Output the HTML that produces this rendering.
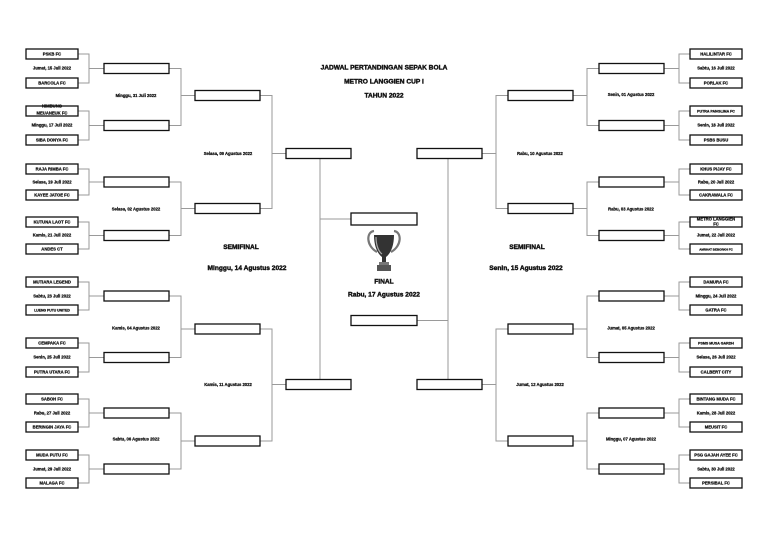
<!DOCTYPE html>
<html><head><meta charset="utf-8"><style>
html,body{margin:0;padding:0;background:#fff;}
svg{display:block;font-family:"Liberation Sans",Arial,sans-serif;font-weight:bold;}
.b{fill:#fff;stroke:#111;stroke-width:1.3}
.l{stroke:#9a9a9a;stroke-width:1;fill:none}
.t,.d{font-size:4.2px;text-anchor:middle;fill:#111;stroke:#111;stroke-width:0.25}
.h{font-size:6.6px;text-anchor:middle;fill:#111;stroke:#111;stroke-width:0.4}
</style></head><body>
<svg width="768" height="543" viewBox="0 0 768 543" xmlns="http://www.w3.org/2000/svg">
<g class="l">
<path d="M78 54H89V83H78M89 68.5H104"/>
<path d="M78 111H89V140H78M89 125.5H104"/>
<path d="M78 169H89V195H78M89 182H104"/>
<path d="M78 222H89V249H78M89 235.5H104"/>
<path d="M78 282H89V310H78M89 296H104"/>
<path d="M78 343H89V372H78M89 357.5H104"/>
<path d="M78 399H89V427H78M89 413H104"/>
<path d="M78 455H89V483H78M89 469H104"/>
<path d="M169 68.5H181V125.5H169M181 95.5H195"/>
<path d="M169 182H181V235.5H169M181 208.5H195"/>
<path d="M169 296H181V357.5H169M181 329H195"/>
<path d="M169 413H181V469H169M181 441H195"/>
<path d="M260 95.5H272V208.5H260M272 153.5H286"/>
<path d="M260 329H272V441H260M272 384.5H286"/>
<path d="M320 158V380M320 219H351"/>
<path d="M690 54H679V83H690M679 68.5H664"/>
<path d="M690 111H679V140H690M679 125.5H664"/>
<path d="M690 169H679V195H690M679 182H664"/>
<path d="M690 222H679V249H690M679 235.5H664"/>
<path d="M690 282H679V310H690M679 296H664"/>
<path d="M690 343H679V372H690M679 357.5H664"/>
<path d="M690 399H679V427H690M679 413H664"/>
<path d="M690 455H679V483H690M679 469H664"/>
<path d="M599 68.5H587V125.5H599M587 95.5H573"/>
<path d="M599 182H587V235.5H599M587 208.5H573"/>
<path d="M599 296H587V357.5H599M587 329H573"/>
<path d="M599 413H587V469H599M587 441H573"/>
<path d="M508 95.5H496V208.5H508M496 153.5H482"/>
<path d="M508 329H496V441H508M496 384.5H482"/>
<path d="M448 158V380M448 320.5H417"/>
</g>
<g class="b">
<rect x="26" y="49" width="52" height="10"/><rect x="26" y="78" width="52" height="10"/>
<rect x="26" y="106" width="52" height="10"/><rect x="26" y="135" width="52" height="10"/>
<rect x="26" y="164" width="52" height="10"/><rect x="26" y="190" width="52" height="10"/>
<rect x="26" y="217" width="52" height="10"/><rect x="26" y="244" width="52" height="10"/>
<rect x="26" y="277" width="52" height="10"/><rect x="26" y="305" width="52" height="10"/>
<rect x="26" y="338" width="52" height="10"/><rect x="26" y="367" width="52" height="10"/>
<rect x="26" y="394" width="52" height="10"/><rect x="26" y="422" width="52" height="10"/>
<rect x="26" y="450" width="52" height="10"/><rect x="26" y="478" width="52" height="10"/>
<rect x="104" y="63.5" width="65" height="10"/><rect x="104" y="120.5" width="65" height="10"/>
<rect x="104" y="177" width="65" height="10"/><rect x="104" y="230.5" width="65" height="10"/>
<rect x="104" y="291" width="65" height="10"/><rect x="104" y="352.5" width="65" height="10"/>
<rect x="104" y="408" width="65" height="10"/><rect x="104" y="464" width="65" height="10"/>
<rect x="195" y="90.5" width="65" height="10"/><rect x="195" y="203.5" width="65" height="10"/>
<rect x="195" y="324" width="65" height="10"/><rect x="195" y="436" width="65" height="10"/>
<rect x="286" y="148.5" width="65" height="10"/><rect x="286" y="379.5" width="65" height="10"/>
<rect x="351" y="213" width="66" height="12"/><rect x="351" y="315.5" width="66" height="10"/>
<rect x="690" y="49" width="52" height="10"/><rect x="690" y="78" width="52" height="10"/>
<rect x="690" y="106" width="52" height="10"/><rect x="690" y="135" width="52" height="10"/>
<rect x="690" y="164" width="52" height="10"/><rect x="690" y="190" width="52" height="10"/>
<rect x="690" y="217" width="52" height="10"/><rect x="690" y="244" width="52" height="10"/>
<rect x="690" y="277" width="52" height="10"/><rect x="690" y="305" width="52" height="10"/>
<rect x="690" y="338" width="52" height="10"/><rect x="690" y="367" width="52" height="10"/>
<rect x="690" y="394" width="52" height="10"/><rect x="690" y="422" width="52" height="10"/>
<rect x="690" y="450" width="52" height="10"/><rect x="690" y="478" width="52" height="10"/>
<rect x="599" y="63.5" width="65" height="10"/><rect x="599" y="120.5" width="65" height="10"/>
<rect x="599" y="177" width="65" height="10"/><rect x="599" y="230.5" width="65" height="10"/>
<rect x="599" y="291" width="65" height="10"/><rect x="599" y="352.5" width="65" height="10"/>
<rect x="599" y="408" width="65" height="10"/><rect x="599" y="464" width="65" height="10"/>
<rect x="508" y="90.5" width="65" height="10"/><rect x="508" y="203.5" width="65" height="10"/>
<rect x="508" y="324" width="65" height="10"/><rect x="508" y="436" width="65" height="10"/>
<rect x="417" y="148.5" width="65" height="10"/><rect x="417" y="379.5" width="65" height="10"/>
</g>
<g class="t">
<text x="52" y="55.5">PSKB FC</text><text x="52" y="69.5">Jumat, 15 Juli 2022</text><text x="52" y="84.5">BARCOLA FC</text>
<text x="52" y="107.5">NIMBUNG</text><text x="52" y="114.5">MEUANEUK FC</text><text x="52" y="126.5">Minggu, 17 Juli 2022</text><text x="52" y="141.5">SIBA DONYA FC</text>
<text x="52" y="170.5">RAJA RIMBA FC</text><text x="52" y="183.5">Selasa, 19 Juli 2022</text><text x="52" y="196.5">KAYEE JATOE FC</text>
<text x="52" y="223.5">KUTUNA LAOT FC</text><text x="52" y="236.5">Kamis, 21 Juli 2022</text><text x="52" y="250.5">ANDES CT</text>
<text x="52" y="283.5">MUTIARA LEGEND</text><text x="52" y="297.5">Sabtu, 23 Juli 2022</text><text x="52" y="311.5" style="font-size:3.4px">LUENG PUTU UNITED</text>
<text x="52" y="344.5">CEMPAKA FC</text><text x="52" y="358.5">Senin, 25 Juli 2022</text><text x="52" y="373.5">PUTRA UTARA FC</text>
<text x="52" y="400.5">SABOH FC</text><text x="52" y="414.5">Rabu, 27 Juli 2022</text><text x="52" y="428.5">BERINGIN JAYA FC</text>
<text x="52" y="456.5">MUDA PUTU FC</text><text x="52" y="470.5">Jumat, 29 Juli 2022</text><text x="52" y="484.5">MALAGA FC</text>
<text x="716" y="55.5">HALILINTAR FC</text><text x="716" y="69.5">Sabtu, 16 Juli 2022</text><text x="716" y="84.5">PORLAK FC</text>
<text x="716" y="112.5" style="font-size:3.6px">PUTRA PANGLIMA FC</text><text x="716" y="126.5">Senin, 18 Juli 2022</text><text x="716" y="141.5">PSBS BUSU</text>
<text x="716" y="170.5">KHUS PIJAY FC</text><text x="716" y="183.5">Rabu, 20 Juli 2022</text><text x="716" y="196.5">CAKRAWALA FC</text>
<text x="716" y="220.5">METRO LANGGIEN</text><text x="716" y="225.5">FC</text><text x="716" y="236.5">Jumat, 22 Juli 2022</text><text x="716" y="250.5" style="font-size:3px">AMRHAT BEBORKH FC</text>
<text x="716" y="283.5">DAMURA FC</text><text x="716" y="297.5">Minggu, 24 Juli 2022</text><text x="716" y="311.5">GATRA FC</text>
<text x="716" y="344.5" style="font-size:3.6px">PSMS MUSA GARDH</text><text x="716" y="358.5">Selasa, 26 Juli 2022</text><text x="716" y="373.5">CALBERT CITY</text>
<text x="716" y="400.5">BINTANG MUDA FC</text><text x="716" y="414.5">Kamis, 28 Juli 2022</text><text x="716" y="428.5">MEUSIT FC</text>
<text x="716" y="456.5">PSG GAJAH AYEE FC</text><text x="716" y="470.5">Sabtu, 30 Juli 2022</text><text x="716" y="484.5">PERSIBAL FC</text>
</g>
<g class="d">
<text x="136" y="97">Minggu, 31 Juli 2022</text>
<text x="136" y="210.5">Selasa, 02 Agustus 2022</text>
<text x="136" y="329.5">Kamis, 04 Agustus 2022</text>
<text x="136" y="440.5">Sabtu, 06 Agustus 2022</text>
<text x="228" y="155">Selasa, 09 Agustus 2022</text>
<text x="228" y="386">Kamis, 11 Agustus 2022</text>
<text x="631" y="96">Senin, 01 Agustus 2022</text>
<text x="631" y="210.5">Rabu, 03 Agustus 2022</text>
<text x="631" y="329.5">Jumat, 05 Agustus 2022</text>
<text x="631" y="440.5">Minggu, 07 Agustus 2022</text>
<text x="540" y="155">Rabu, 10 Agustus 2022</text>
<text x="540" y="386">Jumat, 12 Agustus 2022</text>
</g>
<g class="h">
<text x="384" y="69.5">JADWAL PERTANDINGAN  SEPAK BOLA</text>
<text x="384" y="83.5">METRO LANGGIEN CUP I</text>
<text x="384" y="97.5">TAHUN 2022</text>
<text x="241" y="249">SEMIFINAL</text>
<text x="247" y="270">Minggu, 14 Agustus 2022</text>
<text x="527" y="249">SEMIFINAL</text>
<text x="526" y="270">Senin, 15 Agustus 2022</text>
<text x="384" y="283.5">FINAL</text>
<text x="384" y="296.5">Rabu, 17 Agustus 2022</text>
</g>
<g>
<path d="M374 231 C366 232 366 246 377 252" fill="none" stroke="#777" stroke-width="2.2"/>
<path d="M394 231 C402 232 402 246 391 252" fill="none" stroke="#777" stroke-width="2.2"/>
<path d="M374 235 H394 C394 247 390 254 386 257 V262 H382 V257 C378 254 374 247 374 235Z" fill="#333"/>
<path d="M376 237 C376 246 379 252 382 254" fill="none" stroke="#aaa" stroke-width="1.2"/>
<rect x="379" y="262" width="10" height="3" fill="#777"/>
<rect x="377" y="265" width="14" height="6" fill="#555"/>
</g>
</svg>
</body></html>
